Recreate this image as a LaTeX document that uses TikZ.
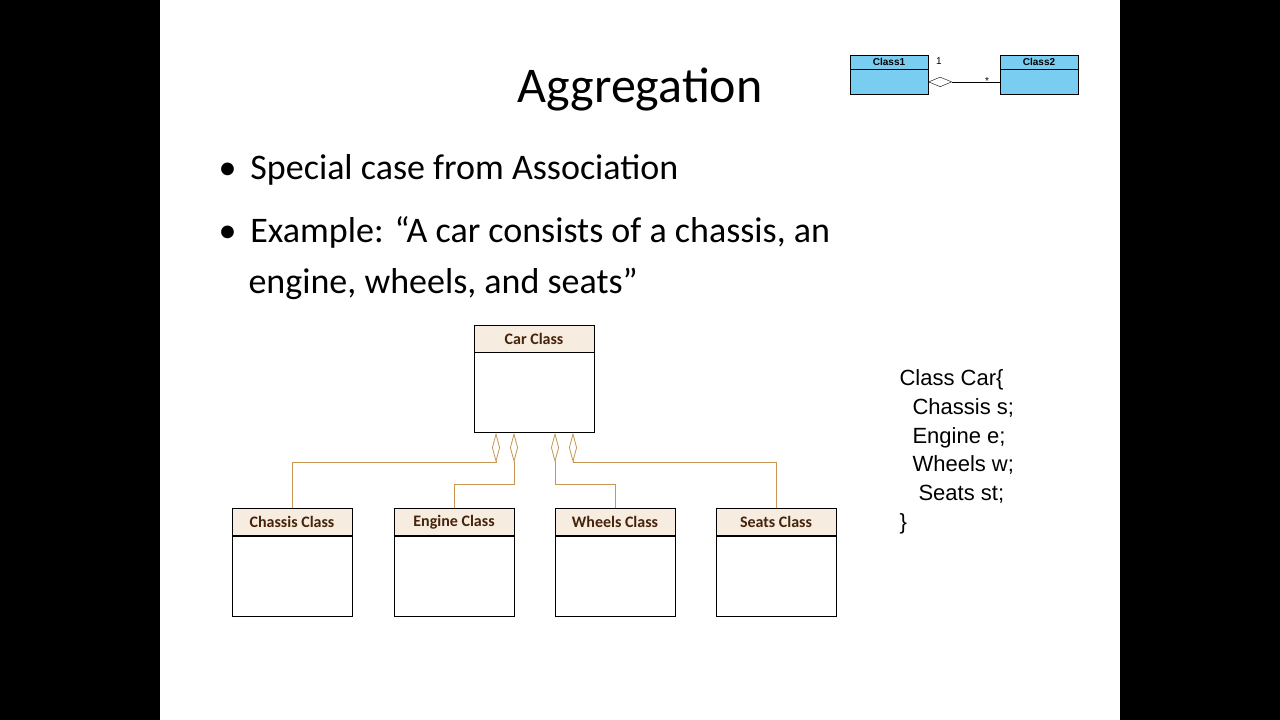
\documentclass[tikz,border=0pt]{standalone}
\usepackage{fontspec}
\setmainfont{Carlito}
\newfontfamily\arialfont{Liberation Sans}
\usetikzlibrary{arrows.meta}
\definecolor{aggline}{RGB}{200,150,80}
\definecolor{headfill}{RGB}{246,237,224}
\definecolor{headtext}{RGB}{70,35,10}
\definecolor{umlblue}{RGB}{120,205,240}
\begin{document}
\begin{tikzpicture}[x=1pt,y=-1pt,
    head/.style={draw,fill=headfill,minimum width=120pt,minimum height=27pt,inner sep=0pt,font=\fontsize{16}{18}\selectfont\bfseries,text=headtext},
    body/.style={draw,fill=white,minimum width=120pt,minimum height=80pt,anchor=north},
    agg/.style={draw=aggline,thick,-{Diamond[open,length=30pt,width=8pt,fill=white]}},
    mini/.style={draw,fill=umlblue,minimum width=78pt,inner sep=0pt,font=\arialfont\fontsize{10}{12}\selectfont\bfseries}]

    \fill[black] (0,0) rectangle (1280,720);
    \fill[white] (160,0) rectangle (1120,720);

    \node[font=\fontsize{50}{60}\selectfont] (title) at (640,90) {Aggregation};
    \node[anchor=west,font=\fontsize{36}{44}\selectfont] (b1) at (215,170) {\textbullet\hspace{14pt}Special case from Association};
    \node[anchor=west,font=\fontsize{36}{44}\selectfont] (b2) at (215,232) {\textbullet\hspace{14pt}Example: “A car consists of a chassis, an};
    \node[anchor=west,font=\fontsize{36}{44}\selectfont] (b3) at (245,284) {engine, wheels, and seats”};

    % small UML sample
    \node[mini,minimum height=14pt] (c1h) at (889,62) {Class1};
    \node[draw,fill=umlblue,minimum width=78pt,minimum height=25pt,anchor=north] (c1) at (c1h.south) {};
    \node[mini,minimum height=14pt] (c2h) at (1039,62) {Class2};
    \node[draw,fill=umlblue,minimum width=78pt,minimum height=25pt,anchor=north] (c2) at (c2h.south) {};
    \draw[-{Diamond[open,length=24pt,width=10pt,fill=white]}] (c2.west) -- (c1.east);
    \node[font=\arialfont\fontsize{10}{12}\selectfont] (one) at (939,61) {1};
    \node[font=\arialfont\fontsize{10}{12}\selectfont] (many) at (987,81) {*};

    % class boxes
    \node[head] (carh) at (534,338.5) {Car Class};
    \node[body,minimum height=80pt] (car) at (carh.south) {};
    \node[head] (chassish) at (292,522) {Chassis Class};
    \node[body] (chassis) at (chassish.south) {};
    \node[head] (engineh) at (454,522) {Engine Class};
    \node[body] (engine) at (engineh.south) {};
    \node[head] (wheelsh) at (615,522) {Wheels Class};
    \node[body] (wheels) at (wheelsh.south) {};
    \node[head] (seatsh) at (776,522) {Seats Class};
    \node[body] (seats) at (seatsh.south) {};

    \draw[agg] (chassish.north) -- ++(0,-46) -| ([xshift=-38pt]car.south);
    \draw[agg] (engineh.north) -- ++(0,-24) -| ([xshift=-20pt]car.south);
    \draw[agg] (wheelsh.north) -- ++(0,-24) -| ([xshift=21pt]car.south);
    \draw[agg] (seatsh.north) -- ++(0,-46) -| ([xshift=39pt]car.south);

    \node[anchor=north west,align=left,font=\arialfont\fontsize{22}{28.8}\selectfont] (code) at (896,366)
        {Class Car\{\\\hspace{13pt}Chassis s;\\\hspace{13pt}Engine e;\\\hspace{13pt}Wheels w;\\\hspace{19pt}Seats st;\\\}};
\end{tikzpicture}
\end{document}
